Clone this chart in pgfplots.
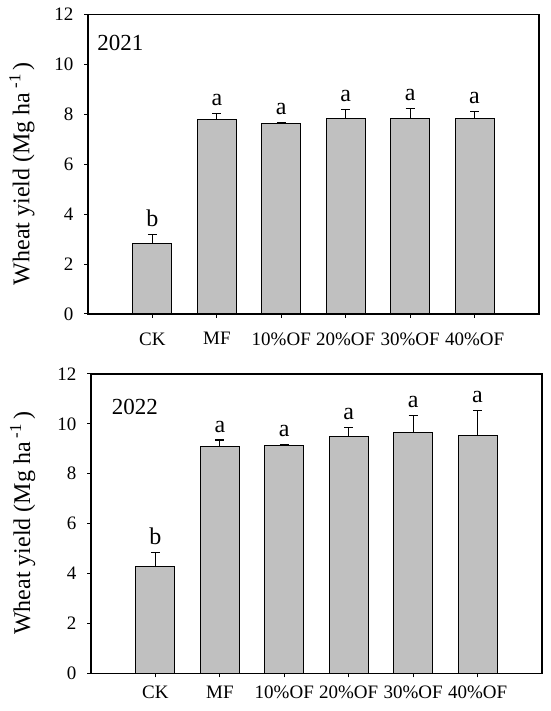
\documentclass[border=0pt]{standalone}
\usepackage{fontspec}
\setmainfont{Liberation Serif}
\usepackage{pgfplots}
\pgfplotsset{compat=1.18}
\definecolor{barg}{RGB}{192,192,192}
\tikzset{
  letter/.style={font=\fontsize{24}{28}\selectfont, anchor=base, yshift=8pt, inner sep=0pt},
  year/.style={font=\fontsize{23}{27}\selectfont, anchor=base west, inner sep=0pt},
}
\pgfplotsset{
  panel/.style={
    scale only axis, width=451pt, height=299.3pt,
    xmin=-1, xmax=6, ymin=0, ymax=12,
    xtick={0,...,5}, xticklabels={CK,MF,10\%OF,20\%OF,30\%OF,40\%OF},
    ytick={0,2,...,12},
    tick align=outside, xtick pos=bottom, ytick pos=left,
    major tick length=4pt, minor tick num=0,
    tick style={black, line width=1pt},
    axis line style={line width=1.4pt},
    ticklabel style={font=\fontsize{19}{22}\selectfont},
    yticklabel style={xshift=-7pt},
    /pgf/number format/assume math mode=true,
    ylabel={Wheat yield (Mg ha\,\textsuperscript{-1}\,)},
    ybar, bar width=39pt,
  },
  bars/.style={fill=barg, draw=black, line width=1pt,
    error bars/.cd, y dir=plus, y explicit,
    error bar style={line width=1.2pt, black},
    error mark options={rotate=90, black, line width=1.2pt, mark size=4.5pt}},
}
\begin{document}
\begin{tikzpicture}
\path[use as bounding box] (0,0) rectangle (550pt,711pt);
% 2021
\begin{axis}[panel, at={(88pt,397pt)}, anchor=south west,
  xticklabel style={yshift=-11pt},
  ylabel style={font=\fontsize{24}{28}\selectfont, anchor=base, at={(axis description cs:-0.130,0.469)}}]
\addplot[bars] coordinates {
  (0,2.81) +- (0,0.38)
  (1,7.78) +- (0,0.25)
  (2,7.62) +- (0,0.07)
  (3,7.83) +- (0,0.36)
  (4,7.83) +- (0,0.40)
  (5,7.83) +- (0,0.28)
};
\node[letter] at (axis cs:0,3.19) {b};
\node[letter] at (axis cs:1,8.03) {a};
\node[letter] at (axis cs:2,7.69) {a};
\node[letter] at (axis cs:3,8.19) {a};
\node[letter] at (axis cs:4,8.23) {a};
\node[letter] at (axis cs:5,8.11) {a};
\node[year] at (axis cs:-0.856,10.55) {2021};
\end{axis}
% 2022
\begin{axis}[panel, at={(91pt,37.7pt)}, anchor=south west,
  xticklabel style={yshift=-5pt},
  ylabel style={font=\fontsize{24}{28}\selectfont, anchor=base, at={(axis description cs:-0.135,0.501)}}]
\addplot[bars] coordinates {
  (0,4.30) +- (0,0.55)
  (1,9.10) +- (0,0.25)
  (2,9.14) +- (0,0.04)
  (3,9.51) +- (0,0.35)
  (4,9.65) +- (0,0.67)
  (5,9.53) +- (0,1.02)
};
\node[letter] at (axis cs:0,4.85) {b};
\node[letter] at (axis cs:1,9.35) {a};
\node[letter] at (axis cs:2,9.18) {a};
\node[letter] at (axis cs:3,9.86) {a};
\node[letter] at (axis cs:4,10.32) {a};
\node[letter] at (axis cs:5,10.55) {a};
\node[year] at (axis cs:-0.68,10.36) {2022};
\end{axis}
\end{tikzpicture}
\end{document}
